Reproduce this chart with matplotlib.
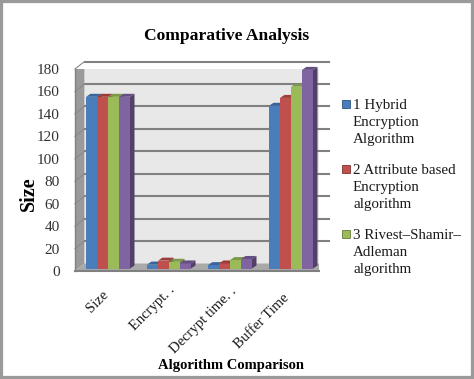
# Comparative analysis chart, fake 3D bars like the office chart
import numpy as np
import matplotlib.pyplot as plt
from matplotlib.patches import Polygon, Rectangle
from matplotlib.transforms import ScaledTranslation

categories = ["Size", "Encrypt. .", "Decrypt time. .", "Buffer Time"]
hybrid = [153, 3.5, 3, 145]
attribute = [153, 7, 4.5, 152]
rsa = [153, 6, 7.5, 162]
fourth = [153, 4.5, 8.5, 177]
series_names = ["1 Hybrid\nEncryption\nAlgorithm", "2 Attribute based\nEncryption\nalgorithm",
                "3 Rivest\u2013Shamir\u2013\nAdleman\nalgorithm"]
y_ticks = [0, 20, 40, 60, 80, 100, 120, 140, 160, 180]

fronts = ["#4a7ebb", "#c0504d", "#9bbb59", "#8064a2"]
tops = ["#3a659a", "#9c3d3b", "#7d9847", "#654f82"]
sides = ["#30547f", "#7f3230", "#657b3a", "#524068"]

W, H = 474, 379
plt.rcParams['font.family'] = ['Liberation Serif', 'DejaVu Serif']

fig = plt.figure(figsize=(W / 100, H / 100), dpi=100, facecolor="white")
fig.add_artist(Rectangle((0, 0), 1, 1, transform=fig.transFigure, fill=False, ec="#9a9a9a", lw=4.5))

# front plane of the chart box, in pixels
left, right, bottom, top = 75, 319, 271, 69
ax = fig.add_axes([left / W, 1 - bottom / H, (right - left) / W, (bottom - top) / H])
ax.set_xlim(0, 4)
ax.set_ylim(0, 180)
ax.patch.set_visible(False)
for s in ax.spines.values():
    s.set_visible(False)

# depth of the box and of the bars, in data units
px_x = 4 / (right - left)
px_y = 180 / (bottom - top)
dx, dy = 9.5 * px_x, 7.5 * px_y
bar_w = 11 * px_x
bdx, bdy = 4.5 * px_x, 3 * px_y
off_x, off_y = 2.5 * px_x, 2.5 * px_y

ax.add_patch(Polygon([(dx, dy), (4 + dx, dy), (4 + dx, 180 + dy), (dx, 180 + dy)], fc="#e8e8e8", ec="none", zorder=1))
ax.add_patch(Polygon([(0, 0), (dx, dy), (dx, 180 + dy), (0, 180)], fc="#9a9a9a", ec="none", zorder=1))
ax.add_patch(Polygon([(0, 0), (4, 0), (4 + dx, dy), (dx, dy)], fc="#a9a9a9", ec="none", zorder=1))
for v in y_ticks[1:]:
    ax.plot([dx, 4 + dx], [v + dy, v + dy], color="#808080", lw=1.5, zorder=2, clip_on=False)
    ax.plot([0, dx], [v, v + dy], color="#8a8a8a", lw=0.8, zorder=2, clip_on=False)
ax.plot([0, 4], [0, 0], color="#808080", lw=1.5, zorder=2, clip_on=False)
ax.plot([0, 0], [0, 180], color="#808080", lw=1.0, zorder=2, clip_on=False)

for i, vals in enumerate([hybrid, attribute, rsa, fourth]):
    xs = np.arange(4) + 0.5 + off_x + (i - 2) * bar_w
    z = 3 + i
    for x, v in zip(xs, vals):
        base = off_y
        ax.add_patch(Rectangle((x, base), bar_w, v, fc=fronts[i], ec="none", zorder=z, clip_on=False))
        ax.add_patch(Polygon([(x, base + v), (x + bar_w, base + v), (x + bar_w + bdx, base + v + bdy),
                              (x + bdx, base + v + bdy)], fc=tops[i], ec="none", zorder=z, clip_on=False))
        ax.add_patch(Polygon([(x + bar_w, base), (x + bar_w + bdx, base + bdy), (x + bar_w + bdx, base + v + bdy),
                              (x + bar_w, base + v)], fc=sides[i], ec="none", zorder=z, clip_on=False))

ax.set_yticks(y_ticks)
ax.set_xticks(np.arange(4) + 0.5)
ax.set_xticklabels(categories, rotation=45, ha="right", rotation_mode="anchor", fontsize=10.5, color="#1a1a1a")
ax.tick_params(axis="both", length=0)
ax.tick_params(axis="y", labelsize=11, pad=11, labelcolor="#333333")
ax.tick_params(axis="x", pad=10)

# labels in the original are not evenly spaced, nudge each one (pixels)
nudges = [(-4, -3), (2, 2), (2, 0), (-6, -6)]
for lab, (nx, ny) in zip(ax.get_xticklabels(), nudges):
    lab.set_transform(lab.get_transform() + ScaledTranslation(nx / 100, ny / 100, fig.dpi_scale_trans))

fig.text(227 / W, 1 - 36.5 / H, "Comparative Analysis", fontsize=12.6, fontweight="bold", ha="center", va="center")
fig.text(231 / W, 1 - 365.5 / H, "Algorithm Comparison", fontsize=10.5, fontweight="bold", ha="center", va="center")
fig.text(28.5 / W, 1 - 194 / H, "Size", fontsize=14.5, fontweight="bold", rotation=90, ha="center", va="center")

# legend by hand, swatch sits on the first line of each entry
for i, name in enumerate(series_names):
    y_px = 99 + 65 * i
    fig.text(353 / W, 1 - y_px / H, name, fontsize=10.8, linespacing=1.39, va="top", ha="left", color="#1a1a1a")
    fig.add_artist(Rectangle((342 / W, 1 - (y_px + 9) / H), 8 / W, 8 / H, transform=fig.transFigure,
                             fc=fronts[i], ec=sides[i], lw=0.6))

fig.savefig("out.png", dpi=100)
